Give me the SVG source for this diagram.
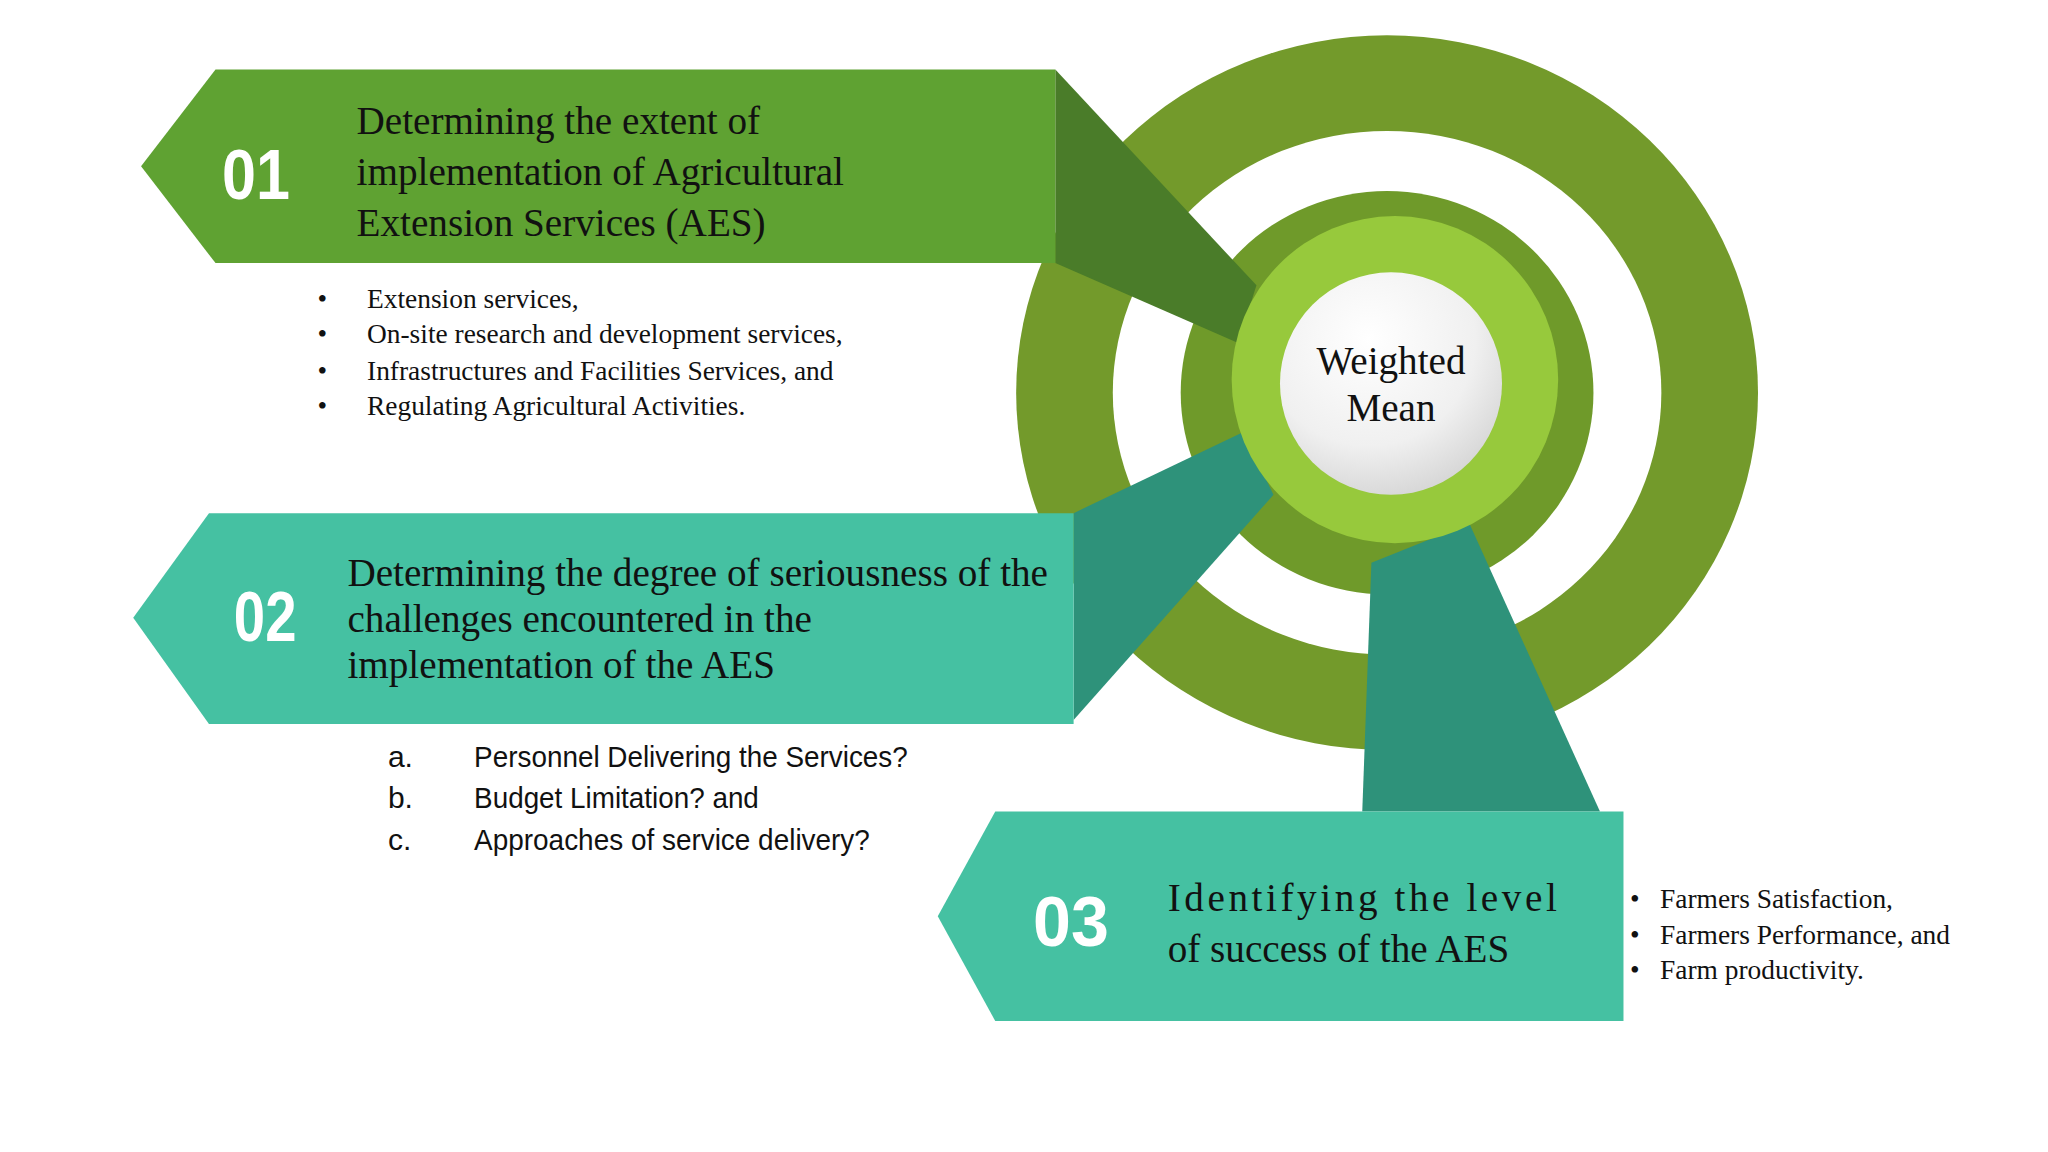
<svg xmlns="http://www.w3.org/2000/svg" width="2048" height="1152" viewBox="0 0 2048 1152">
<defs>
<radialGradient id="sph" cx="0.4" cy="0.3" r="0.8"><stop offset="0" stop-color="#ffffff"/><stop offset="0.6" stop-color="#f0f0f0"/><stop offset="1" stop-color="#cfcfcf"/></radialGradient>
<style>
.h{font-family:"Liberation Serif",serif;font-size:30px;fill:#111}
.b{font-family:"Liberation Serif",serif;font-size:21px;fill:#111}
.s{font-family:"Liberation Sans",sans-serif;font-size:23px;fill:#111}
.n{font-family:"Liberation Sans",sans-serif;font-weight:bold;font-size:54px;fill:#fff}
</style>
</defs>
<rect width="2048" height="1152" fill="#fff"/>
<g transform="scale(1.3061,1.309)">
<g id="rings">
<ellipse cx="1062" cy="300" rx="284" ry="273" fill="#739a2b"/>
<ellipse cx="1062" cy="300" rx="210" ry="200" fill="#fff"/>
<ellipse cx="1062" cy="300" rx="158" ry="154" fill="#6f9a2a"/>
</g>
<g id="connectors">
<polygon points="808,53 962,218 948,262 808,201" fill="#4a7c29"/>
<polygon points="822,392 952,330 975,378 822,550" fill="#2e927a"/>
<polygon points="1043,620 1050,430 1125,400 1225,620" fill="#2e927a"/>
</g>
<g id="center">
<ellipse cx="1068" cy="290" rx="125" ry="125" fill="#97c93c"/>
<circle cx="1065" cy="293" r="85" fill="url(#sph)"/>
<text class="h" x="1065" y="286" text-anchor="middle" font-size="29">Weighted</text>
<text class="h" x="1065" y="322" text-anchor="middle" font-size="29">Mean</text>
</g>
<g id="n1">
<polygon points="108,127 165,53 808,53 808,201 165,201" fill="#5fa232"/>
<text class="n" x="170" y="152" textLength="52" lengthAdjust="spacingAndGlyphs">01</text>
<text class="h" x="273" y="102">Determining the extent of</text>
<text class="h" x="273" y="141">implementation of Agricultural</text>
<text class="h" x="273" y="180">Extension Services (AES)</text>
<text class="b" x="243" y="235">•</text><text class="b" x="281" y="235">Extension services,</text>
<text class="b" x="243" y="262">•</text><text class="b" x="281" y="262">On-site research and development services,</text>
<text class="b" x="243" y="290">•</text><text class="b" x="281" y="290">Infrastructures and Facilities Services, and</text>
<text class="b" x="243" y="317">•</text><text class="b" x="281" y="317">Regulating Agricultural Activities.</text>
</g>
<g id="n2">
<polygon points="102,472 160,392 822,392 822,553 160,553" fill="#45c1a2"/>
<text class="n" x="179" y="490" textLength="48" lengthAdjust="spacingAndGlyphs">02</text>
<text class="h" x="266" y="448" font-size="28">Determining the degree of seriousness of the</text>
<text class="h" x="266" y="483" font-size="28">challenges encountered in the</text>
<text class="h" x="266" y="518" font-size="28">implementation of the AES</text>
<text class="s" x="297" y="586">a.</text><text class="s" x="363" y="586" textLength="332" lengthAdjust="spacingAndGlyphs">Personnel Delivering the Services?</text>
<text class="s" x="297" y="617">b.</text><text class="s" x="363" y="617" textLength="218" lengthAdjust="spacingAndGlyphs">Budget Limitation? and</text>
<text class="s" x="297" y="649">c.</text><text class="s" x="363" y="649" textLength="303" lengthAdjust="spacingAndGlyphs">Approaches of service delivery?</text>
</g>
<g id="n3">
<polygon points="718,700 762,620 1243,620 1243,780 762,780" fill="#45c1a2"/>
<text class="n" x="791" y="723" textLength="58" lengthAdjust="spacingAndGlyphs">03</text>
<text class="h" x="894" y="696" textLength="298" lengthAdjust="spacing">Identifying   the   level</text>
<text class="h" x="894" y="735">of success of the AES</text>
<text class="b" x="1248" y="694">•</text><text class="b" x="1271" y="694">Farmers Satisfaction,</text>
<text class="b" x="1248" y="721">•</text><text class="b" x="1271" y="721">Farmers Performance, and</text>
<text class="b" x="1248" y="748">•</text><text class="b" x="1271" y="748">Farm productivity.</text>
</g>
</g>
</svg>
